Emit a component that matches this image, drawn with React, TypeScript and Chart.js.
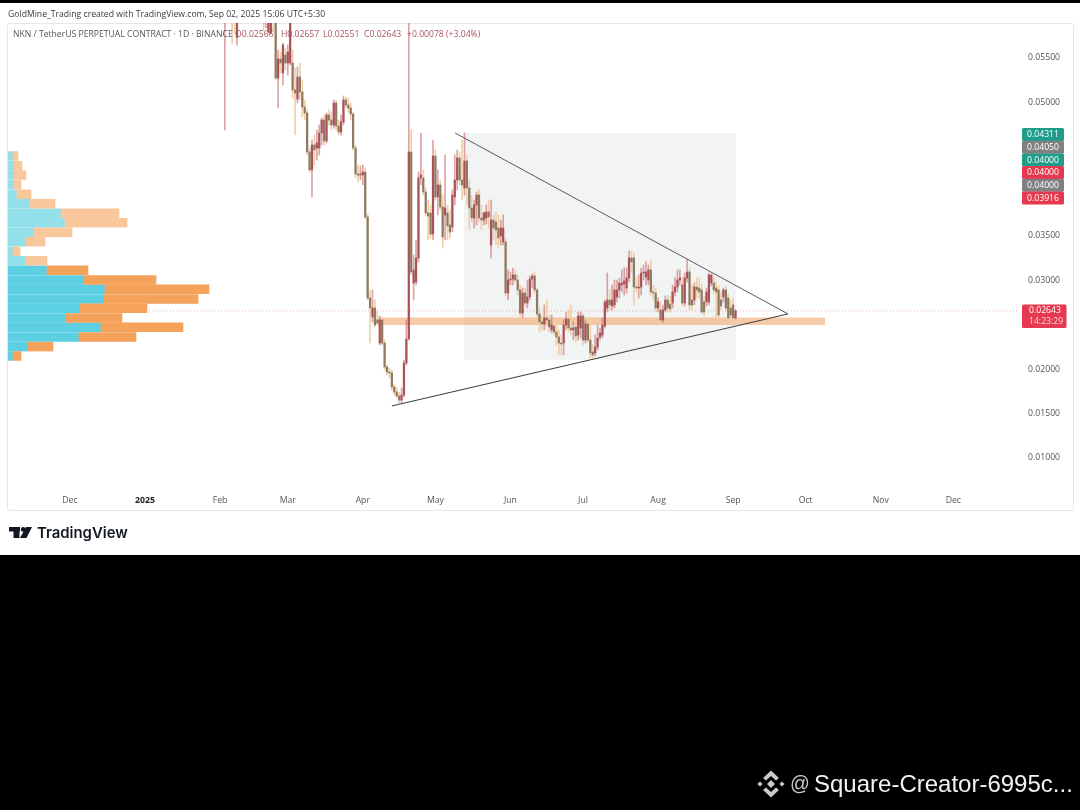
import React, { useEffect, useRef } from "react";
import { Chart, registerables } from "chart.js";

Chart.register(...registerables);

// Each candle row: [open, high, low, close]; first row is day 33 after 1 Jan 2025
const firstCandleDay = 33;
const candlesFeb = [
  [.0600,.0640,.04679,.0620],[.0625,.0640,.0600,.0610],[.0610,.0630,.0595,.0605],[.0610,.0640,.05657,.0600],
  [.0600,.0620,.05770,.0590],[.05720,.0605,.05635,.0595],[.0600,.0615,.0592,.0605],[.0605,.0625,.0595,.0610],
  [.0610,.0630,.0600,.0620],[.0620,.0635,.0605,.0625],[.0625,.0640,.0610,.0615],[.0615,.0630,.0600,.0610],
  [.0610,.0625,.0595,.0605],[.0605,.0620,.0592,.0600],[.0600,.0615,.0590,.0605],[.0605,.0615,.0592,.0600],
  [.0600,.0615,.05790,.0595],[.0595,.0610,.05830,.0600],[.05780,.0610,.05770,.0600],[.05770,.0605,.05760,.0595],
  [.0595,.0605,.05780,.0590],[.0600,.0610,.05241,.05263],[.05263,.05579,.04926,.05477],[.05477,.05556,.05320,.05432],
  [.05320,.05657,.05185,.05635],[.05522,.05601,.05354,.05432],
];
const candlesMar = [
  [.05432,.05635,.05297,.05556],[.05432,.0610,.05409,.0595],[.05432,.05579,.05039,.05129],[.05129,.05376,.04622,.05095],
  [.05027,.05387,.04982,.05275],[.05275,.05432,.05016,.05106],[.05106,.05241,.04825,.04937],[.04937,.05016,.04791,.04870],
  [.04870,.04904,.04397,.04431],[.04431,.04476,.04206,.04229],[.04229,.04566,.03925,.04510],[.04510,.04622,.04285,.04454],
  [.04476,.04679,.04341,.04532],[.04476,.04735,.04397,.04645],[.04645,.04814,.04510,.04791],[.04791,.04847,.04510,.04555],
  [.04555,.04870,.04532,.04847],[.04847,.04904,.04735,.04791],[.04791,.04881,.04679,.04735],[.04735,.05016,.04701,.04982],
  [.04982,.05016,.04679,.04724],[.04724,.04791,.04622,.04656],[.04656,.04847,.04622,.04769],[.04769,.05061,.04735,.05016],
  [.05016,.05050,.04926,.04960],[.04960,.05039,.04881,.04926],[.04926,.04982,.04791,.04858],[.04858,.04881,.04454,.04476],
  [.04476,.04510,.04139,.04184],[.04184,.04285,.04094,.04172],[.04172,.04274,.04116,.04184],
];
const candlesApr = [
  [.04172,.04285,.04060,.04206],[.04206,.04251,.03677,.03700],[.03700,.03734,.02766,.02788],[.02788,.02879,.02282,.02676],
  [.02575,.02879,.02519,.02676],[.02676,.02766,.02462,.02485],[.02541,.02654,.02485,.02507],[.02282,.02586,.02260,.02541],
  [.02541,.02564,.02260,.02282],[.02282,.02316,.01979,.02012],[.02012,.02035,.01922,.01956],[.01956,.02001,.01889,.01945],
  [.01945,.01979,.01754,.01787],[.01787,.01821,.01697,.01731],[.01731,.01776,.01664,.01686],[.01686,.01731,.01608,.01641],
  [.01641,.01776,.01608,.01697],[.01697,.02091,.01675,.02057],[.02057,.02541,.02035,.02327],[.02327,.0590,.02316,.04431],
  [.04431,.04679,.03047,.03081],[.02957,.03272,.02766,.03103],[.02969,.03441,.02935,.03239],[.03239,.04206,.03194,.04139],
  [.04139,.04645,.04060,.04172],[.04139,.04229,.03947,.03981],[.03981,.04026,.03711,.03745],[.03745,.03891,.03441,.03711],
  [.03745,.03835,.03464,.03508],[.03508,.04566,.03441,.04386],
];
const candlesMay = [
  [.04386,.04454,.03891,.03925],[.03925,.04229,.03722,.04060],[.04060,.04116,.03779,.03812],[.03812,.03947,.03351,.03475],
  [.03722,.04397,.03441,.03801],[.03745,.03835,.03441,.03599],[.03610,.03779,.03464,.03531],[.03587,.04004,.03531,.03947],
  [.03925,.04397,.03835,.04116],[.04116,.04454,.04004,.04364],[.04364,.04431,.04060,.04116],[.04116,.04566,.03891,.04060],
  [.04026,.04645,.03947,.04330],[.04330,.04397,.03835,.04026],[.04026,.04116,.03554,.03801],[.03801,.03947,.03644,.03689],
  [.03689,.03891,.03576,.03835],[.03835,.03981,.03610,.03947],[.03947,.04004,.03644,.03689],[.03689,.03835,.03554,.03666],
  [.03666,.03756,.03610,.03745],[.03689,.03835,.03621,.03756],[.03756,.03891,.03576,.03700],[.03385,.03891,.03239,.03666],
  [.03666,.03722,.03441,.03576],[.03644,.03756,.03385,.03554],[.03576,.03722,.03351,.03464],[.03486,.03666,.03385,.03576],
  [.03419,.03722,.03385,.03576],[.03419,.03464,.02811,.02845],[.02845,.03104,.02766,.02991],
];
const candlesJun = [
  [.02991,.03081,.02935,.03002],[.03002,.03126,.02935,.03047],[.03047,.03104,.02969,.02991],[.02991,.03047,.02822,.02879],
  [.02879,.02935,.02586,.02620],[.02620,.02901,.02564,.02845],[.02845,.02901,.02699,.02732],[.02732,.02991,.02676,.02800],
  [.02800,.03036,.02766,.03002],[.03002,.03059,.02901,.03036],[.03036,.03081,.02845,.02879],[.02879,.02901,.02564,.02609],
  [.02609,.02676,.02406,.02519],[.02519,.02586,.02429,.02496],[.02496,.02710,.02429,.02564],[.02564,.02766,.02474,.02541],
  [.02541,.02597,.02406,.02462],[.02429,.02597,.02395,.02485],[.02474,.02541,.02372,.02406],[.02406,.02519,.02260,.02350],
  [.02350,.02429,.02147,.02282],[.02282,.02372,.02147,.02271],[.02282,.02541,.02147,.02485],[.02485,.02631,.02429,.02552],
  [.02552,.02654,.02406,.02451],[.02451,.02710,.02372,.02429],[.02429,.02519,.02316,.02451],[.02462,.02564,.02294,.02361],
  [.02372,.02631,.02316,.02586],[.02451,.02631,.02339,.02586],
];
const candlesJul = [
  [.02586,.02609,.02260,.02316],[.02316,.02541,.02282,.02496],[.02496,.02564,.02294,.02316],[.02316,.02541,.02114,.02170],
  [.02181,.02260,.02114,.02147],[.02170,.02372,.02136,.02237],[.02237,.02485,.02204,.02339],[.02350,.02451,.02316,.02395],
  [.02372,.02564,.02339,.02485],[.02474,.02766,.02451,.02744],[.02676,.03070,.02631,.02766],[.02766,.02879,.02654,.02710],
  [.02699,.02935,.02654,.02766],[.02710,.02991,.02676,.02879],[.02800,.02991,.02744,.02879],[.02879,.03014,.02789,.02957],
  [.02935,.03104,.02856,.02957],[.02946,.03126,.02822,.02980],[.02901,.03126,.02845,.03014],[.03014,.03317,.02969,.03239],
  [.03239,.03317,.03081,.03194],[.03239,.03295,.02710,.02912],[.02912,.03014,.02856,.02901],[.02901,.03047,.02789,.02912],
  [.02912,.03126,.02822,.03070],[.03070,.03160,.02991,.03081],[.03025,.03194,.02935,.03081],[.02991,.03160,.02935,.03104],
  [.03104,.03216,.02811,.02856],[.02856,.02935,.02766,.02845],[.02845,.02901,.02631,.02676],
];
const candlesAug = [
  [.02676,.02789,.02631,.02744],[.02654,.02744,.02519,.02541],[.02541,.02710,.02507,.02654],[.02654,.02811,.02631,.02766],
  [.02766,.02822,.02631,.02676],[.02721,.02811,.02631,.02665],[.02732,.02935,.02676,.02856],[.02856,.03014,.02811,.02912],
  [.02912,.03104,.02856,.02991],[.02991,.03104,.02935,.03014],[.02935,.03025,.02699,.02732],[.02732,.03070,.02699,.03014],
  [.03014,.03227,.02969,.03081],[.03081,.03126,.02654,.02710],[.02766,.02935,.02654,.02710],[.02766,.02957,.02710,.02912],
  [.02912,.03014,.02789,.02879],[.02901,.03014,.02789,.02856],[.02879,.02946,.02609,.02631],[.02744,.02811,.02586,.02631],
  [.02744,.02901,.02699,.02856],[.02744,.03070,.02710,.03047],[.02957,.03059,.02924,.03047],[.02957,.03014,.02834,.02879],
  [.02901,.02969,.02564,.02856],[.02879,.02924,.02541,.02597],[.02766,.02856,.02654,.02699],[.02800,.02901,.02744,.02879],
  [.02879,.02924,.02631,.02676],[.02789,.02834,.02541,.02564],[.02676,.02766,.02541,.02597],
];
const candlesSep = [[.02710,.02789,.02474,.02565],[.02566,.02657,.02551,.02643]];

// Visible-range volume profile
const profilePrices = [.04386,.04277,.04172,.04063,.03955,.03849,.03741,.03636,.03528,.03422,.03314,.03208,.03100,.02991,.02886,.02777,.02673,.02564,.02459,.02350,.02241,.02136];
const profileUp = [5,6,6,6,9,22,53,57,26,18,5,18,39,76,97,96,72,58,93,71,20,5];
const profileDown = [5,8,12,7,14,25,58,62,38,19,7,21,41,72,104,94,67,56,82,57,25,8];
const valueAreaFirstRow = 12;

// Drawings
const rangeBoxDays = [131.8, 244.2];
const rangeBoxPrices = [.04645, .02091];
const supportDays = [96.3, 281];
const supportPrices = [.02569, .02485];
const upperTrendDays = [128.1, 265.7];
const upperTrendPrices = [.04645, .02609];
const lowerTrendDays = [102, 265.7];
const lowerTrendPrices = [.01574, .02609];
const lastPrice = .02643;

const priceTicks = [.055, .05, .035, .03, .02, .015, .01];
const monthTickDays = [-31, 0, 31, 59, 90, 120, 151, 181, 212, 243, 273, 304, 334];
const monthTickLabels = ["Dec", "2025", "Feb", "Mar", "Apr", "May", "Jun", "Jul", "Aug", "Sep", "Oct", "Nov", "Dec"];
const priceFlags = [
  ["0.04311", "#1f9d8a"], ["0.04050", "#808080"], ["0.04000", "#1f9d8a"],
  ["0.04000", "#e5394f"], ["0.04000", "#808080"], ["0.03916", "#e5394f"],
];
const lastPriceText = "0.02643";
const countdownText = "14:23:29";
const creditText = "GoldMine_Trading created with TradingView.com, Sep 02, 2025 15:06 UTC+5:30";
const symbolText = "NKN / TetherUS PERPETUAL CONTRACT · 1D · BINANCE";
const ohlcTexts = ["O0.02566", "H0.02657", "L0.02551", "C0.02643", "+0.00078 (+3.04%)"];
const ohlcXs = [235, 281, 323, 364, 407];
const brandText = "TradingView";
const watermarkAt = "@";
const watermarkText = "Square-Creator-6995c...";

const FONT = '"Open Sans", sans-serif';

const candles = [...candlesFeb, ...candlesMar, ...candlesApr, ...candlesMay, ...candlesJun, ...candlesJul, ...candlesAug, ...candlesSep];
const isUp = (c: number[]) => c[3] >= c[0];

function roundBox(ctx: any, x: number, y: number, w: number, h: number, r: number, color: string) {
  ctx.fillStyle = color;
  ctx.beginPath();
  ctx.roundRect(x, y, w, h, r);
  ctx.fill();
}

function diamond(ctx: any, cx: number, cy: number, r: number) {
  ctx.beginPath();
  ctx.moveTo(cx, cy - r);
  ctx.lineTo(cx + r, cy);
  ctx.lineTo(cx, cy + r);
  ctx.lineTo(cx - r, cy);
  ctx.closePath();
  ctx.fill();
}

const backdrop = {
  id: "backdrop",
  beforeDraw(chart: any) {
    const ctx = chart.ctx;
    ctx.save();
    ctx.fillStyle = "#000000";
    ctx.fillRect(0, 0, 1080, 810);
    ctx.fillStyle = "#ffffff";
    ctx.fillRect(0, 3, 1080, 552);
    ctx.strokeStyle = "#e6e7ea";
    ctx.lineWidth = 1;
    ctx.beginPath();
    ctx.roundRect(7.5, 23.5, 1066, 487, 2);
    ctx.stroke();
    ctx.restore();
  },
};

const overlay = {
  id: "overlay",
  afterDraw(chart: any) {
    const ctx = chart.ctx;
    ctx.save();
    ctx.textBaseline = "middle";
    ctx.textAlign = "left";
    // header
    ctx.font = `8.65px ${FONT}`;
    ctx.fillStyle = "#3a3a3a";
    ctx.fillText(creditText, 8, 14.5);
    ctx.fillStyle = "#55565c";
    ctx.fillText(symbolText, 13, 35);
    ctx.fillStyle = "#a8555b";
    ohlcTexts.forEach((t, i) => ctx.fillText(t, ohlcXs[i], 35));
    // price flags
    priceFlags.forEach(([t, color], i) => {
      const top = 128 + i * 12.7;
      roundBox(ctx, 1022, top, 42, 13, 1.5, color);
      ctx.fillStyle = "#ffffff";
      ctx.textAlign = "center";
      ctx.fillText(t, 1043, top + 6.8);
    });
    roundBox(ctx, 1022, 304.5, 44.5, 23.5, 1.5, "#e5394f");
    ctx.fillStyle = "#ffffff";
    ctx.textAlign = "left";
    ctx.fillText(lastPriceText, 1029, 311);
    ctx.fillStyle = "#fbd4d9";
    ctx.fillText(countdownText, 1029, 322);
    // brand logo
    ctx.fillStyle = "#131722";
    ctx.fillRect(9, 527, 11, 4.5);
    ctx.fillRect(13.5, 527, 6, 11);
    ctx.beginPath();
    ctx.arc(23.2, 529.4, 2.4, 0, Math.PI * 2);
    ctx.fill();
    ctx.beginPath();
    ctx.moveTo(26, 527);
    ctx.lineTo(32, 527);
    ctx.lineTo(26.5, 538);
    ctx.lineTo(20, 538);
    ctx.closePath();
    ctx.fill();
    ctx.font = '600 14.9px Inter, sans-serif';
    ctx.fillText(brandText, 37, 533.5);
    // watermark
    ctx.fillStyle = "#c9c9c9";
    diamond(ctx, 771, 784, 4);
    diamond(ctx, 760, 784, 2.6);
    diamond(ctx, 782, 784, 2.6);
    for (const dir of [-1, 1]) {
      ctx.beginPath();
      ctx.moveTo(771, 784 + dir * 13.5);
      ctx.lineTo(779, 784 + dir * 6);
      ctx.lineTo(776, 784 + dir * 3.5);
      ctx.lineTo(771, 784 + dir * 8);
      ctx.lineTo(766, 784 + dir * 3.5);
      ctx.lineTo(763, 784 + dir * 6);
      ctx.closePath();
      ctx.fill();
    }
    ctx.font = '19.5px "Liberation Sans", sans-serif';
    ctx.fillStyle = "#c9c9c9";
    ctx.fillText(watermarkAt, 790, 785);
    ctx.font = '24px "Liberation Sans", sans-serif';
    ctx.fillStyle = "#f2f2f2";
    ctx.fillText(watermarkText, 814, 785);
    ctx.restore();
  },
};

export default function App() {
  const ref = useRef<HTMLCanvasElement | null>(null);

  useEffect(() => {
    if (!ref.current) return;
    const dayOf = (i: number) => firstCandleDay + i;
    const linePoints = (days: number[], prices: number[]) => days.map((d, i) => ({ x: d, y: prices[i] }));
    const chart = new Chart(ref.current, {
      type: "bar",
      data: {
        datasets: [
          {
            type: "line",
            order: 20,
            data: linePoints(rangeBoxDays, [rangeBoxPrices[0], rangeBoxPrices[0]]),
            borderWidth: 0,
            pointRadius: 0,
            backgroundColor: "#f2f3f3",
            fill: { value: rangeBoxPrices[1] },
            xAxisID: "x",
            yAxisID: "y",
          },
          {
            type: "line",
            order: 19,
            data: linePoints(supportDays, [supportPrices[0], supportPrices[0]]),
            borderWidth: 0,
            pointRadius: 0,
            backgroundColor: "rgba(243,166,105,0.58)",
            fill: { value: supportPrices[1] },
            xAxisID: "x",
            yAxisID: "y",
          },
          {
            type: "line",
            order: 18,
            data: [{ x: -56.6, y: lastPrice }, { x: 360.3, y: lastPrice }],
            borderColor: "rgba(214,120,130,0.55)",
            borderWidth: 1,
            borderDash: [1, 2],
            pointRadius: 0,
            xAxisID: "x",
            yAxisID: "y",
          },
          {
            indexAxis: "y",
            order: 17,
            grouped: false,
            barThickness: 8.8,
            data: profilePrices.map((p, i) => ({ y: p, x: [0, profileUp[i]] })),
            backgroundColor: profilePrices.map((_, i) => (i >= valueAreaFirstRow ? "#5dcfe2" : "#93e0ea")),
            xAxisID: "xv",
            yAxisID: "y",
          },
          {
            indexAxis: "y",
            order: 16,
            grouped: false,
            barThickness: 8.8,
            data: profilePrices.map((p, i) => ({ y: p, x: [profileUp[i], profileUp[i] + profileDown[i]] })),
            backgroundColor: profilePrices.map((_, i) => (i >= valueAreaFirstRow ? "#f5a25b" : "#f8c79b")),
            xAxisID: "xv",
            yAxisID: "y",
          },
          {
            order: 6,
            grouped: false,
            barThickness: 1,
            data: candles.map((c, i) => ({ x: dayOf(i), y: [c[2], c[1]] })),
            backgroundColor: candles.map((c) => (isUp(c) ? "rgba(205,125,125,0.7)" : "#efcfa8")),
            xAxisID: "x",
            yAxisID: "y",
          },
          {
            order: 5,
            grouped: false,
            barThickness: 1.6,
            data: candles.map((c, i) => ({ x: dayOf(i), y: [c[0], c[3]] })),
            backgroundColor: candles.map((c) => (isUp(c) ? "rgba(163,68,76,0.88)" : "rgba(125,106,84,0.85)")),
            xAxisID: "x",
            yAxisID: "y",
          },
          {
            type: "line",
            order: 2,
            data: linePoints(upperTrendDays, upperTrendPrices),
            borderColor: "#5a5a5e",
            borderWidth: 1,
            pointRadius: 0,
            xAxisID: "x",
            yAxisID: "y",
          },
          {
            type: "line",
            order: 2,
            data: linePoints(lowerTrendDays, lowerTrendPrices),
            borderColor: "#3a3a3e",
            borderWidth: 1,
            pointRadius: 0,
            xAxisID: "x",
            yAxisID: "y",
          },
        ],
      } as any,
      options: {
        animation: false,
        responsive: false,
        devicePixelRatio: 1,
        layout: { padding: { left: 8, top: 23, right: 7, bottom: 300 } },
        plugins: { legend: { display: false }, tooltip: { enabled: false }, title: { display: false } },
        scales: {
          x: {
            type: "linear",
            offset: false,
            min: -56.6,
            max: 360.3,
            grid: { display: false, drawTicks: false },
            border: { display: false },
            afterBuildTicks: (s: any) => { s.ticks = monthTickDays.map((value) => ({ value })); },
            afterFit: (s: any) => { s.height = 22; },
            ticks: {
              autoSkip: false,
              maxRotation: 0,
              padding: 7,
              color: (c: any) => (c.tick && c.tick.value === 0 ? "#222222" : "#55565c"),
              font: (c: any) => ({ family: '"Open Sans", sans-serif', size: 8.7, weight: c.tick && c.tick.value === 0 ? "bold" : "normal" }),
              callback: (v: any) => monthTickLabels[monthTickDays.indexOf(v)],
            },
          },
          xv: {
            type: "linear",
            axis: "x",
            display: false,
            offset: false,
            min: 0,
            max: 1009,
          },
          y: {
            type: "linear",
            position: "right",
            offset: false,
            min: .00651,
            max: .05882,
            grid: { display: false, drawTicks: false },
            border: { display: false },
            afterBuildTicks: (s: any) => { s.ticks = priceTicks.map((value) => ({ value })); },
            afterFit: (s: any) => { s.width = 56; },
            ticks: {
              autoSkip: false,
              padding: 11,
              labelOffset: 1,
              color: "#55565c",
              font: { family: '"Open Sans", sans-serif', size: 8.7 },
              callback: (v: any) => Number(v).toFixed(5),
            },
          },
        },
      } as any,
      plugins: [backdrop, overlay],
    } as any);
    return () => chart.destroy();
  }, []);

  return (
    <div style={{ position: "absolute", left: 0, top: 0, width: 1080, height: 810 }}>
      <canvas ref={ref} width={1080} height={810} style={{ display: "block", width: 1080, height: 810 }} />
    </div>
  );
}
